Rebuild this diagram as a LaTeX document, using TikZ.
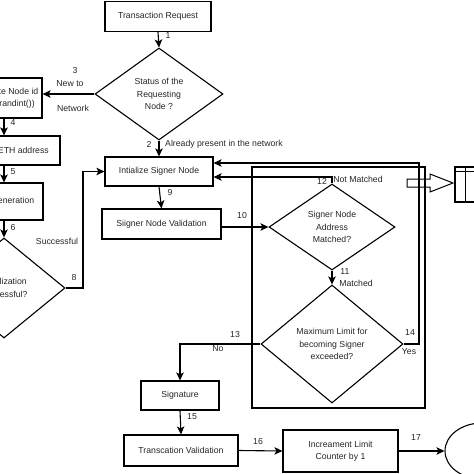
\documentclass[tikz,border=0pt]{standalone}
\usepackage{fontspec}
\setmainfont{Liberation Sans}
\usetikzlibrary{shapes.geometric,arrows.meta}
\begin{document}
\begin{tikzpicture}[x=1pt,y=-1pt,
  every node/.style={font=\fontsize{8.7}{12.5}\selectfont},
  box/.style={draw, line width=1.2pt, rectangle, inner sep=0pt, align=center, text=black!85},
  dia/.style={draw, line width=1.1pt, diamond, inner sep=0pt, align=center, text=black!85},
  conn/.style={line width=1.1pt, -{Stealth[length=8pt,width=7.5pt,inset=2pt]}},
  plain/.style={line width=1.1pt},
  lab/.style={inner sep=0pt, text=black!85}]
\useasboundingbox (0,0) rectangle (474,474);
\clip (0,0) rectangle (474,474);

% nodes
\node[box, minimum width=106pt, minimum height=30pt] (tr) at (158,16.5) {Transaction Request};
\node[dia, minimum width=128pt, minimum height=92pt] (st) at (159,94) {Status of the\\Requesting\\Node ?};
\node[box, minimum width=76pt, minimum height=40pt] (nid) at (4,98) {Generate Node id\\using (randint())};
\node[box, minimum width=112pt, minimum height=29pt] (eth) at (4,150.5) {Generate ETH address};
\node[box, minimum width=78pt, minimum height=37pt] (kg) at (4,201.5) {Key Generation};
\node[dia, minimum width=122pt, minimum height=100pt] (isd) at (4,288) {Initialization\\Successful?};
\node[box, minimum width=108pt, minimum height=29pt] (init) at (159,171.5) {Intialize Signer Node};
\node[box, minimum width=119pt, minimum height=30pt] (snv) at (161.5,224) {Siigner Node Validation};
\node[dia, minimum width=126pt, minimum height=86pt] (snam) at (332,227) {Signer Node\\Address\\Matched?};
\node[dia, minimum width=142pt, minimum height=118pt] (maxl) at (332,344) {Maximum Limit for\\becoming Signer\\exceeded?};
\node[box, minimum width=78pt, minimum height=29pt] (sig) at (180,395.5) {Signature};
\node[box, minimum width=114pt, minimum height=31pt] (tv) at (181,450.5) {Transcation Validation};
\node[box, minimum width=115pt, minimum height=42pt] (inc) at (340.5,451) {Increament Limit\\Counter by 1};
\node[draw, ellipse, line width=1.1pt, inner sep=0pt, text=black!85, minimum width=74pt, minimum height=56pt] (endn) at (482,451) {End};

% frame around validation
\node[draw, line width=1.1pt, rectangle, inner sep=0pt, minimum width=173pt, minimum height=241pt] (frame) at (338.5,287.5) {};

% block arrow and store
\draw[line width=1pt] (407,179) -- (430,179) -- (430,174) -- (453,183) -- (430,192) -- (430,187) -- (407,187) -- cycle;
\node[draw, line width=1.1pt, rectangle, inner sep=0pt, minimum width=40pt, minimum height=35pt] (store) at (475,184.5) {};
\draw[line width=1pt] (465,167) -- (465,202);
\draw[line width=1pt] (455,171) -- (495,171);

% connectors
\draw[conn] (tr.south) -- (st.north);
\node[lab] at (168,36) {1};

\draw[conn] (st.south) -- (init.north);
\node[lab] at (149,144) {2};
\node[lab, anchor=west] at (165,144) {Already present in the network};

\draw[conn] (st.west) -- (st.west -| nid.east);
\node[lab] at (75,71) {3};
\node[lab] at (70,84) {New to};
\node[lab] at (73,108) {Network};

\draw[conn] (nid.south) -- (eth.north);
\node[lab] at (13,123) {4};
\draw[conn] (eth.south) -- (kg.north);
\node[lab] at (13,172) {5};
\draw[conn] (kg.south) -- (isd.north);
\node[lab] at (13,228) {6};

\coordinate (c8) at (83,288);
\draw[conn] (isd.east) -- (c8) |- (init.west);
\node[lab] at (74,278) {8};
\node[lab] at (57,241) {Successful};

\draw[conn] (init.south) -- (snv.north);
\node[lab] at (170,193) {9};

\draw[conn] (snv.east |- snam.west) -- (snam.west);
\node[lab] at (242,216) {10};

\draw[conn] (snam.south) -- (maxl.north);
\node[lab] at (345,272) {11};
\node[lab] at (356,283) {Matched};

\coordinate (c12) at (332,177);
\draw[conn] (snam.north) -- (c12) -- (c12 -| init.east);
\node[lab] at (322,181) {12};
\node[lab] at (358,179) {Not Matched};

\draw[conn] (maxl.west) -| (sig.north);
\node[lab] at (235,335) {13};
\node[lab] at (218,349) {No};

\coordinate (c14a) at (419,344);
\coordinate (c14b) at (419,163);
\draw[conn] (maxl.east) -- (c14a) -- (c14b) -- (c14b -| init.east);
\node[lab] at (410,333) {14};
\node[lab] at (409,352) {Yes};

\draw[conn] (sig.south) -- (tv.north);
\node[lab] at (192,417) {15};

\draw[conn] (tv.east) -- (inc.west);
\node[lab] at (258,441) {16};

\draw[conn] (inc.east) -- (endn.west);
\node[lab] at (416,438) {17};
\end{tikzpicture}
\end{document}
